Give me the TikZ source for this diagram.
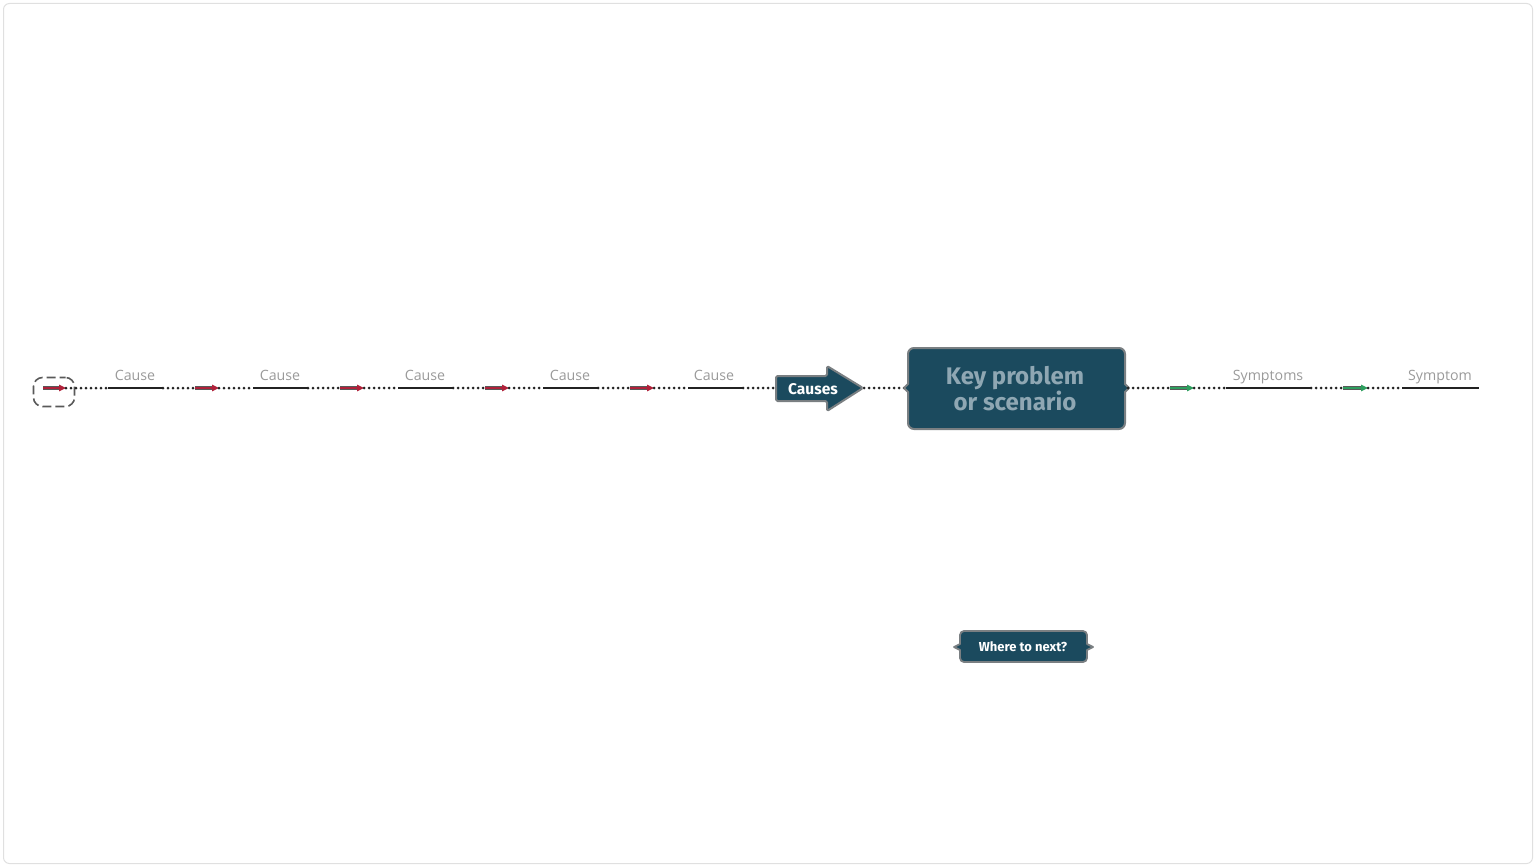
\documentclass[tikz,border=0pt]{standalone}
\usepackage{fontspec}
\setmainfont{Open Sans}
\newfontfamily\heavyfont{Fira Sans}
\usetikzlibrary{arrows.meta}
\definecolor{teal}{HTML}{1B4A5E}
\definecolor{bordergray}{HTML}{7A7F82}
\definecolor{keytext}{HTML}{8FA7B3}
\definecolor{labelgray}{HTML}{9A9A9A}
\definecolor{causered}{HTML}{B0213A}
\definecolor{symgreen}{HTML}{2E9E5E}
\definecolor{linedark}{HTML}{222222}
\tikzset{
  dotline/.style={line width=3pt, line cap=round, dash pattern=on 0pt off 5pt, draw=linedark},
  solidline/.style={line width=1.6pt, draw=linedark},
  arrowbase/.style={line width=3.6pt, draw=gray!70!black},
  redarrow/.style={line width=1.4pt, draw=causered, -{Triangle[length=7pt,width=6.5pt]}},
  greenarrow/.style={line width=1.4pt, draw=symgreen, -{Triangle[length=7pt,width=6.5pt]}},
  lbl/.style={text=labelgray, font=\fontsize{14.2}{15}\selectfont, inner sep=0pt, anchor=base},
  tealbox/.style={fill=teal, draw=bordergray, line width=2pt},
}
\begin{document}
\begin{tikzpicture}[x=1pt,y=-1pt]
\useasboundingbox (0,0) rectangle (1536,867);
\draw[line width=1pt, draw=black!12, rounded corners=6pt] (3.5,3.5) rectangle (1532.5,863.5);

% root dashed box
\node[draw=black!65, dash pattern=on 9pt off 4pt, dash phase=3pt, line width=1.6pt, rounded corners=9pt,
      minimum width=41pt, minimum height=29pt, inner sep=0pt] (root) at (54,392) {};

% coordinates along the line (y=388)
\foreach \n/\x in {r0/43,r1/66,
  a1/108,b1/163,r2a/195,r2b/219,a2/253,b2/308,r3a/340,r3b/364,a3/398,b3/453,
  r4a/485,r4b/509,a4/543,b4/598,r5a/630,r5b/654,a5/688,b5/743,c0/776,
  c1/864,k0/906,k1/1128,g1a/1170,g1b/1194,s1a/1226,s1b/1311,g2a/1343,g2b/1368,s2a/1402,s2b/1479}
  {\coordinate (\n) at (\x,388);}

% first arrow in root
\draw[arrowbase] (r0) -- ([xshift=-4pt]r1);
\draw[redarrow] (r0) -- (r1);

% cause chain
\draw[dotline] (r1) -- (a1);
\draw[solidline] (a1) -- (b1);
\node[lbl] (l1) at (135,380.5) {Cause};
\draw[dotline] (b1) -- (r2a);
\draw[arrowbase] (r2a) -- ([xshift=-4pt]r2b);
\draw[redarrow] (r2a) -- (r2b);
\draw[dotline] (r2b) -- (a2);
\draw[solidline] (a2) -- (b2);
\node[lbl] (l2) at (280,380.5) {Cause};
\draw[dotline] (b2) -- (r3a);
\draw[arrowbase] (r3a) -- ([xshift=-4pt]r3b);
\draw[redarrow] (r3a) -- (r3b);
\draw[dotline] (r3b) -- (a3);
\draw[solidline] (a3) -- (b3);
\node[lbl] (l3) at (425,380.5) {Cause};
\draw[dotline] (b3) -- (r4a);
\draw[arrowbase] (r4a) -- ([xshift=-4pt]r4b);
\draw[redarrow] (r4a) -- (r4b);
\draw[dotline] (r4b) -- (a4);
\draw[solidline] (a4) -- (b4);
\node[lbl] (l4) at (570,380.5) {Cause};
\draw[dotline] (b4) -- (r5a);
\draw[arrowbase] (r5a) -- ([xshift=-4pt]r5b);
\draw[redarrow] (r5a) -- (r5b);
\draw[dotline] (r5b) -- (a5);
\draw[solidline] (a5) -- (b5);
\node[lbl] (l5) at (714,380.5) {Cause};
\draw[dotline] (b5) -- (c0);

% Causes arrow
\draw[tealbox, line join=round, rounded corners=1.5pt]
  (776,376) -- (827,376) -- (827,366) -- (863,388) -- (827,411) -- (827,401) -- (776,401) -- cycle;
\node[text=white, font=\heavyfont\bfseries\fontsize{15.5}{16}\selectfont, inner sep=0pt] (causes) at (813,389) {Causes};

\draw[dotline] (c1) -- (k0);

% Key problem box with brace tips
\draw[tealbox, line join=round]
  (914,348) -- (1119,348) to[out=0,in=90] (1125,354) -- (1125,384) -- (1129,388) -- (1125,392) -- (1125,423)
  to[out=-90,in=0] (1119,429) -- (914,429) to[out=180,in=-90] (908,423) -- (908,392) -- (904,388) -- (908,384)
  -- (908,354) to[out=90,in=180] cycle;
\node[text=keytext, font=\heavyfont\bfseries\fontsize{24}{26}\selectfont, align=center, inner sep=0pt] (key) at (1015,389) {Key problem\\or scenario};

% symptoms chain
\draw[dotline] (k1) -- (g1a);
\draw[arrowbase] (g1a) -- ([xshift=-4pt]g1b);
\draw[greenarrow] (g1a) -- (g1b);
\draw[dotline] (g1b) -- (s1a);
\draw[solidline] (s1a) -- (s1b);
\node[lbl] (sl1) at (1268,380.5) {Symptoms};
\draw[dotline] (s1b) -- (g2a);
\draw[arrowbase] (g2a) -- ([xshift=-4pt]g2b);
\draw[greenarrow] (g2a) -- (g2b);
\draw[dotline] (g2b) -- (s2a);
\draw[solidline] (s2a) -- (s2b);
\node[lbl] (sl2) at (1440,380.5) {Symptom};

% Where to next
\draw[tealbox, line join=round, line width=1.8pt]
  (964,631) -- (1083,631) to[out=0,in=90] (1087,635) -- (1087,644) -- (1093,647) -- (1087,650) -- (1087,658)
  to[out=-90,in=0] (1083,662) -- (964,662) to[out=180,in=-90] (960,658) -- (960,650) -- (954,647) -- (960,644)
  -- (960,635) to[out=90,in=180] cycle;
\node[text=white, font=\heavyfont\bfseries\fontsize{13}{14}\selectfont, inner sep=0pt] (next) at (1023,647) {Where to next?};
\end{tikzpicture}
\end{document}
